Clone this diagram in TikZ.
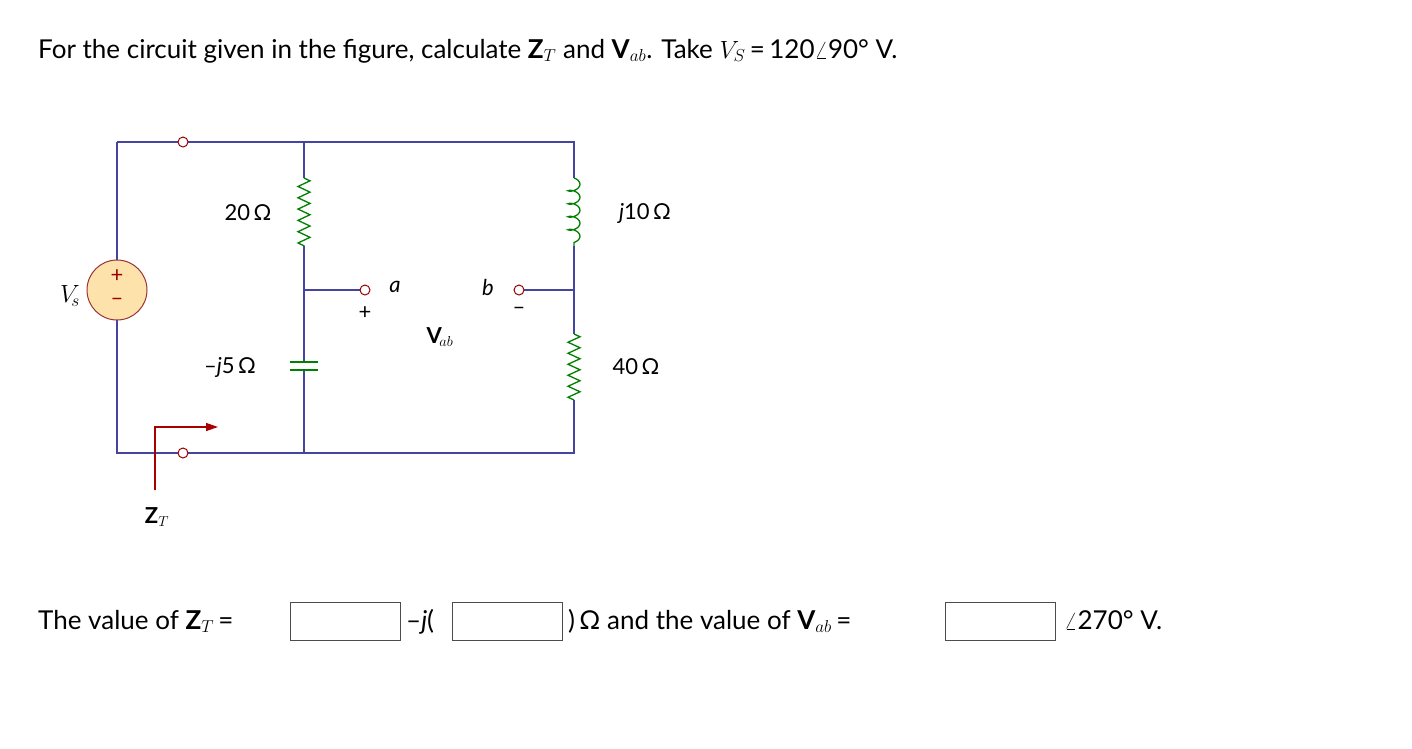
\documentclass[tikz,border=0pt]{standalone}
\usepackage{fontspec}
\setmainfont{Lato}
\usetikzlibrary{decorations.pathmorphing,arrows.meta}
\begin{document}
\begin{tikzpicture}[x=1pt,y=-1pt,
  wire/.style={draw=blue!40!gray!90!black,line width=1.3pt},
  comp/.style={draw=green!50!black,line width=1.3pt},
  term/.style={circle,draw=red!60!black,fill=white,line width=1pt,minimum size=10pt,inner sep=0pt},
  lbl/.style={font=\fontsize{22}{24}\selectfont,inner sep=0pt},
  txt/.style={font=\fontsize{26}{30}\selectfont,inner sep=0pt,anchor=base west},
  ansbox/.style={draw=black!70,line width=0.8pt,minimum width=110pt,minimum height=38pt,inner sep=0pt}]
\useasboundingbox (0,0) rectangle (1412,748);
\node[txt] (q) at (38,58) {For the circuit given in the figure, calculate $\mathbf{Z}_T$ and $\mathbf{V}_{ab}$. Take $V_S$\,=\,120$\angle$90° V.};
% nodes
\coordinate (tl) at (117,142); \coordinate (tm) at (304,142); \coordinate (tr) at (574,142);
\coordinate (bl) at (117,453); \coordinate (bm) at (304,453); \coordinate (br) at (574,453);
\coordinate (ml) at (304,290); \coordinate (mr) at (574,290);
\coordinate (r1t) at (304,178); \coordinate (r1b) at (304,246);
\coordinate (l1t) at (574,178); \coordinate (l1b) at (574,246);
\coordinate (r2t) at (574,334); \coordinate (r2b) at (574,400);
\coordinate (c1t) at (304,362); \coordinate (c1b) at (304,370);
\draw[wire] (tl) -- (tr) -- (l1t);
\draw[wire] (tm) -- (r1t);
\draw[wire] (r1b) -- (c1t);
\draw[wire] (c1b) -- (bm);
\draw[wire] (l1b) -- (r2t);
\draw[wire] (r2b) -- (br) -- (bl) -- (tl);
\draw[wire] (ml) -- (365,290);
\draw[wire] (519,290) -- (mr);
\draw[comp,decorate,decoration={zigzag,segment length=11.3pt,amplitude=6pt}] (r1t) -- (r1b);
\draw[comp,decorate,decoration={zigzag,segment length=11pt,amplitude=6pt}] (r2t) -- (r2b);
\draw[comp,decorate,decoration={coil,segment length=13pt,amplitude=6pt,aspect=0.5}] (l1t) -- (l1b);
\draw[comp] ([xshift=-14pt]c1t) -- ([xshift=14pt]c1t) ([xshift=-14pt]c1b) -- ([xshift=14pt]c1b);
\node[circle,draw=red!50!black!80,fill=yellow!30!orange!30,line width=1pt,minimum width=54pt,minimum height=60pt,inner sep=0pt] (vs) at (117,290) {};
\node[font=\fontsize{22}{24}\selectfont,red!60!black] at (117,276) {+};
\node[font=\fontsize{22}{24}\selectfont,red!60!black] at (117,302) {--};
\node[term] (t1) at (183,142) {};
\node[term] (t2) at (183,453) {};
\node[term] (a) at (365,290) {};
\node[term] (b) at (519,290) {};
\node[font=\fontsize{26}{28}\selectfont\rmfamily\itshape] at (70,296) {$V_{\!s}$};
\node[lbl] at (248,213) {20\,Ω};
\node[lbl] at (645,213) {\textit{j}10\,Ω};
\node[lbl] at (230,367) {--\textit{j}5\,Ω};
\node[lbl] at (636,367) {40\,Ω};
\node[lbl] at (395,287) {\textit{a}};
\node[lbl] at (488,287) {\textit{b}};
\node[lbl] at (365,313) {+};
\node[lbl] at (519,311) {--};
\node[lbl] at (440,337) {$\mathbf{V}_{\!ab}$};
\draw[red!65!black,line width=1.3pt,-{Triangle[length=12pt,width=8pt]}] (155,490) -- (155,427) -- (218,427);
\node[lbl] at (157,517) {$\mathbf{Z}_T$};
% answer line
\node[txt] (l1) at (38,629) {The value of $\mathbf{Z}_T$\,=};
\node[ansbox] (b1) at (345,621) {};
\node[txt] (l2) at (406,629) {--\textit{j}(};
\node[ansbox] (b2) at (507,621) {};
\node[txt] (l3) at (568,629) {)\,Ω and the value of $\mathbf{V}_{ab}$\,=};
\node[ansbox] (b3) at (1000,621) {};
\node[txt] (l4) at (1064,629) {$\angle$270° V.};
\end{tikzpicture}
\end{document}
